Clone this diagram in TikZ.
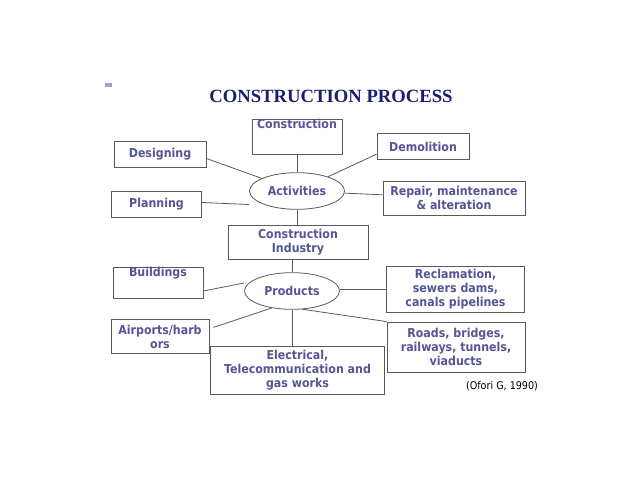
\documentclass[tikz,border=0pt]{standalone}
\usepackage{fontspec}
\setmainfont{DejaVu Sans Condensed}
\newfontfamily\titlefont{Liberation Serif}
\usetikzlibrary{shapes.geometric}
\definecolor{txt}{RGB}{84,84,150}
\definecolor{navy}{RGB}{25,30,110}
\definecolor{bul}{RGB}{160,160,210}
\begin{document}
\begin{tikzpicture}[x=0.75pt,y=-0.75pt,
  bx/.style={draw=black!65,line width=0.6pt,text=txt,font=\bfseries\fontsize{9.2}{10.5}\selectfont,align=center,inner sep=0pt,anchor=center},
  el/.style={draw=black!65,line width=0.6pt,ellipse,text=txt,font=\bfseries\fontsize{9.2}{10.5}\selectfont,inner sep=0pt,minimum width=71.25pt,minimum height=27.5pt},
  ln/.style={draw=black!65,line width=0.6pt}]
\useasboundingbox (0,0) rectangle (638,478);
\fill[bul] (105,83) rectangle (112,87);
\node[text=navy,font=\titlefont\bfseries\fontsize{14}{16}\selectfont] (title) at (331,96) {CONSTRUCTION PROCESS};
\node[bx,minimum width=67.5pt,minimum height=22.5pt] (cons) at (297,137) {Construction\\[9pt]};
\node[bx,minimum width=69pt,minimum height=19pt] (des) at (160,154.5) {Designing};
\node[bx,minimum width=69pt,minimum height=20pt] (dem) at (423,146.5) {Demolition};
\node[el] (act) at (297,191) {Activities};
\node[bx,minimum width=68pt,minimum height=19pt] (plan) at (156.5,204.5) {Planning};
\node[bx,minimum width=106.5pt,minimum height=25.5pt] (rep) at (454,198) {Repair, maintenance\\\& alteration};
\node[bx,minimum width=105pt,minimum height=26pt] (ci) at (298,242.5) {Construction\\Industry};
\node[bx,minimum width=67.5pt,minimum height=19.5pt] (bui) at (158,283) {Buildings\\[6pt]};
\node[el] (prod) at (292,291) {Products};
\node[bx,minimum width=104pt,minimum height=35pt] (rec) at (455.5,289.5) {Reclamation,\\sewers dams,\\canals pipelines};
\node[bx,minimum width=73.5pt,minimum height=25pt] (air) at (160,336.5) {Airports/harb\\ors};
\node[bx,minimum width=130pt,minimum height=36pt] (ele) at (297.5,370) {Electrical,\\Telecommunication and\\gas works};
\node[bx,minimum width=103.5pt,minimum height=37.5pt] (road) at (456,347) {Roads, bridges,\\railways, tunnels,\\viaducts};
\node[text=black,font=\fontsize{8}{9}\selectfont] (cite) at (502,386) {(Ofori G, 1990)};
\draw[ln] (cons) -- (act);
\draw[ln] (des.east) ++(0,4) -- (act);
\draw[ln] (dem.south west) ++(0,-6) -- (act);
\draw[ln] (plan.east) ++(0,-2) -- (act.west|-plan.east);
\draw[ln] (act) -- (rep);
\draw[ln] (act) -- (act|-ci.north);
\draw[ln] (prod|-ci.south) -- (prod);
\draw[ln] (bui.east) ++(0,8) -- (prod.west|-bui.east);
\draw[ln] (rec.west) -- (prod.east|-rec.west);
\draw[ln] (air.north east) ++(4,8) -- (prod.-140);
\draw[ln] (prod) -- (prod|-ele.north);
\draw[ln] (prod.-60) -- (road.west|-road.north) ++(0,0);
\end{tikzpicture}
\end{document}
